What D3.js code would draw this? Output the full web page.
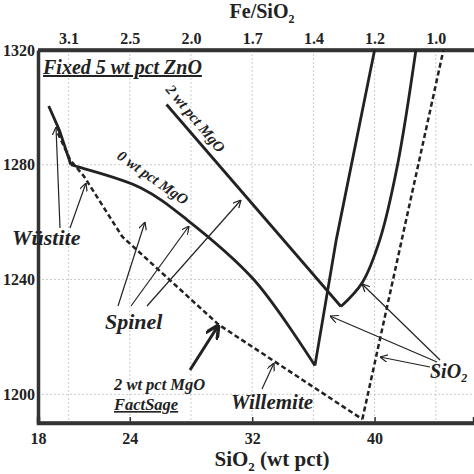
<!DOCTYPE html>
<html><head><meta charset="utf-8">
<script src="https://cdn.jsdelivr.net/npm/d3@7"></script>
<style>body{margin:0;background:#fff}text{font-family:"Liberation Serif","Times New Roman",serif;font-weight:bold;fill:#222}</style>
</head><body><div id="chart"></div>
<script>
// data (x = SiO2 wt pct, y = temperature)
var xTicks = [18, 24, 32, 40];
var xGrid = [20, 24, 28, 32, 36, 40, 44];
var topLabels = ["3.1", "2.5", "2.0", "1.7", "1.4", "1.2", "1.0"];
var yTicks = [1200, 1240, 1280, 1320];

var wustite0 = [[18.7, 1300.5], [19.4, 1292], [20.15, 1280]];
var spinel0 = [[20.15, 1280], [20.8, 1279], [24.7, 1272], [27.7, 1261], [32.1, 1240], [36.1, 1210]];
var silica0 = [[36.1, 1210], [37.5, 1254], [40.0, 1320]];
var spinel2 = [[26.4, 1301], [37.8, 1230.6]];
var silica2 = [[37.8, 1230.6], [39.2, 1239], [40.35, 1254], [41.5, 1280], [42.7, 1320]];
var factsage = [[19.3, 1291], [20.1, 1281.7], [21.0, 1276], [23.5, 1255], [29.8, 1224.3], [39.2, 1191.3]];
var factsageSi = [[39.2, 1191.3], [44.5, 1320]];

var W = 474, H = 474;
var margin = {top: 50, right: 0, bottom: 51, left: 38};
var x = d3.scaleLinear().domain([18, 18 + (W - margin.left) / 15.3]).range([margin.left, W]);
var y = d3.scaleLinear().domain([1190, 1320]).range([H - margin.bottom, margin.top]);

var svg = d3.select("#chart").append("svg").attr("width", W).attr("height", H);

// grid
svg.selectAll(".gx").data(xGrid).enter().append("line")
  .attr("x1", d => x(d)).attr("x2", d => x(d)).attr("y1", y(1320)).attr("y2", y(1190))
  .attr("stroke", "#ccc").attr("stroke-dasharray", "2,2");
svg.selectAll(".gy").data(yTicks.slice(0, 3)).enter().append("line")
  .attr("x1", x(18)).attr("x2", W).attr("y1", d => y(d)).attr("y2", d => y(d))
  .attr("stroke", "#ccc").attr("stroke-dasharray", "2,2");

// axes
var bx = svg.append("g").attr("transform", "translate(0," + y(1190) + ")")
  .call(d3.axisBottom(x).tickValues(xTicks).tickSize(-6).tickPadding(10));
var tx = svg.append("g").attr("transform", "translate(0," + y(1320) + ")")
  .call(d3.axisTop(x).tickValues(xGrid).tickSize(0).tickPadding(6).tickFormat((d, i) => topLabels[i]));
var ly = svg.append("g").attr("transform", "translate(" + x(18) + ",0)")
  .call(d3.axisLeft(y).tickValues(yTicks).tickSize(0).tickPadding(3).tickFormat(d3.format("d")));
[bx, tx, ly].forEach(function (g) {
  g.select(".domain").attr("stroke", "#333").attr("stroke-width", 3.5);
  g.selectAll("text").style("font-size", "16px").attr("fill", "#222");
  g.selectAll("line").attr("stroke", "#333").attr("stroke-width", 1.5);
});
svg.append("line").attr("x1", x(18)).attr("x2", W).attr("y1", y(1320)).attr("y2", y(1320)).attr("stroke", "#333").attr("stroke-width", 3.5);
svg.append("line").attr("x1", x(18)).attr("x2", W).attr("y1", y(1190)).attr("y2", y(1190)).attr("stroke", "#333").attr("stroke-width", 3.5);

svg.append("text").attr("x", 262).attr("y", 18).attr("text-anchor", "middle").style("font-size", "20px")
  .html('Fe/SiO<tspan font-size="12" dy="5">2</tspan>');
svg.append("text").attr("x", 272).attr("y", 466).attr("text-anchor", "middle").style("font-size", "21px")
  .html('SiO<tspan font-size="13" dy="5">2</tspan><tspan dy="-5"> (wt pct)</tspan>');

// curves
var line = d3.line().x(d => x(d[0])).y(d => y(d[1]));
var curve = d3.line().curve(d3.curveCatmullRom).x(d => x(d[0])).y(d => y(d[1]));
svg.append("defs").append("clipPath").attr("id", "clip").append("rect")
  .attr("x", x(18)).attr("y", y(1320)).attr("width", W).attr("height", y(1190) - y(1320));
var plot = svg.append("g").attr("clip-path", "url(#clip)");
[[wustite0, line], [spinel0, curve], [silica0, line], [spinel2, line], [silica2, curve]].forEach(function (p) {
  plot.append("path").attr("d", p[1](p[0])).attr("fill", "none").attr("stroke", "#222").attr("stroke-width", 2.8);
});
[factsage, factsageSi].forEach(function (p) {
  plot.append("path").attr("d", line(p)).attr("fill", "none").attr("stroke", "#222").attr("stroke-width", 2.5).attr("stroke-dasharray", "5,3");
});

// arrows
var defs = svg.select("defs");
defs.append("marker").attr("id", "ah").attr("viewBox", "0 0 10 10").attr("refX", 10).attr("refY", 5)
  .attr("markerWidth", 8).attr("markerHeight", 8).attr("orient", "auto").attr("markerUnits", "userSpaceOnUse")
  .append("path").attr("d", "M0,0L10,5L0,10").attr("fill", "none").attr("stroke", "#222").attr("stroke-width", 1.5);
defs.append("marker").attr("id", "ahb").attr("viewBox", "0 0 10 10").attr("refX", 9).attr("refY", 5)
  .attr("markerWidth", 14).attr("markerHeight", 14).attr("orient", "auto").attr("markerUnits", "userSpaceOnUse")
  .append("path").attr("d", "M0,0L10,5L0,10").attr("fill", "none").attr("stroke", "#222").attr("stroke-width", 2.5);
var arrows = [[60, 228, 56, 127], [70, 228, 86, 183], [118, 306, 145, 222], [131, 306, 189, 226], [147, 306, 241, 200],
  [262, 389, 274, 363], [437, 362, 330, 316], [430, 367, 380, 357], [440, 360, 362, 284]];
arrows.forEach(function (a) {
  svg.append("line").attr("x1", a[0]).attr("y1", a[1]).attr("x2", a[2]).attr("y2", a[3])
    .attr("stroke", "#222").attr("stroke-width", 1.2).attr("marker-end", "url(#ah)");
});
svg.append("line").attr("x1", 190).attr("y1", 370).attr("x2", 218).attr("y2", 326)
  .attr("stroke", "#222").attr("stroke-width", 3).attr("marker-end", "url(#ahb)");

// labels
function label(t, px, py, size, opts) {
  opts = opts || {};
  var e = svg.append("text").attr("x", px).attr("y", py).style("font-size", size + "px").style("font-style", "italic")
    .attr("text-decoration", opts.u ? "underline" : null);
  if (opts.rot) e.attr("transform", "rotate(" + opts.rot + "," + px + "," + py + ")");
  e.html(t);
  return e;
}
label("Fixed 5 wt pct ZnO", 43, 74, 20, {u: true});
label("Wüstite", 12, 245, 22);
label("Spinel", 105, 329, 22);
label("2 wt pct MgO", 114, 390, 16.5);
label("FactSage", 114, 410, 16.5, {u: true});
label("Willemite", 231, 409, 21);
label('SiO<tspan font-size="12" dy="4">2</tspan>', 430, 378, 20);
label("0 wt pct MgO", 116, 158, 15, {rot: 35});
label("2 wt pct MgO", 165, 90, 15, {rot: 50});
</script></body></html>
